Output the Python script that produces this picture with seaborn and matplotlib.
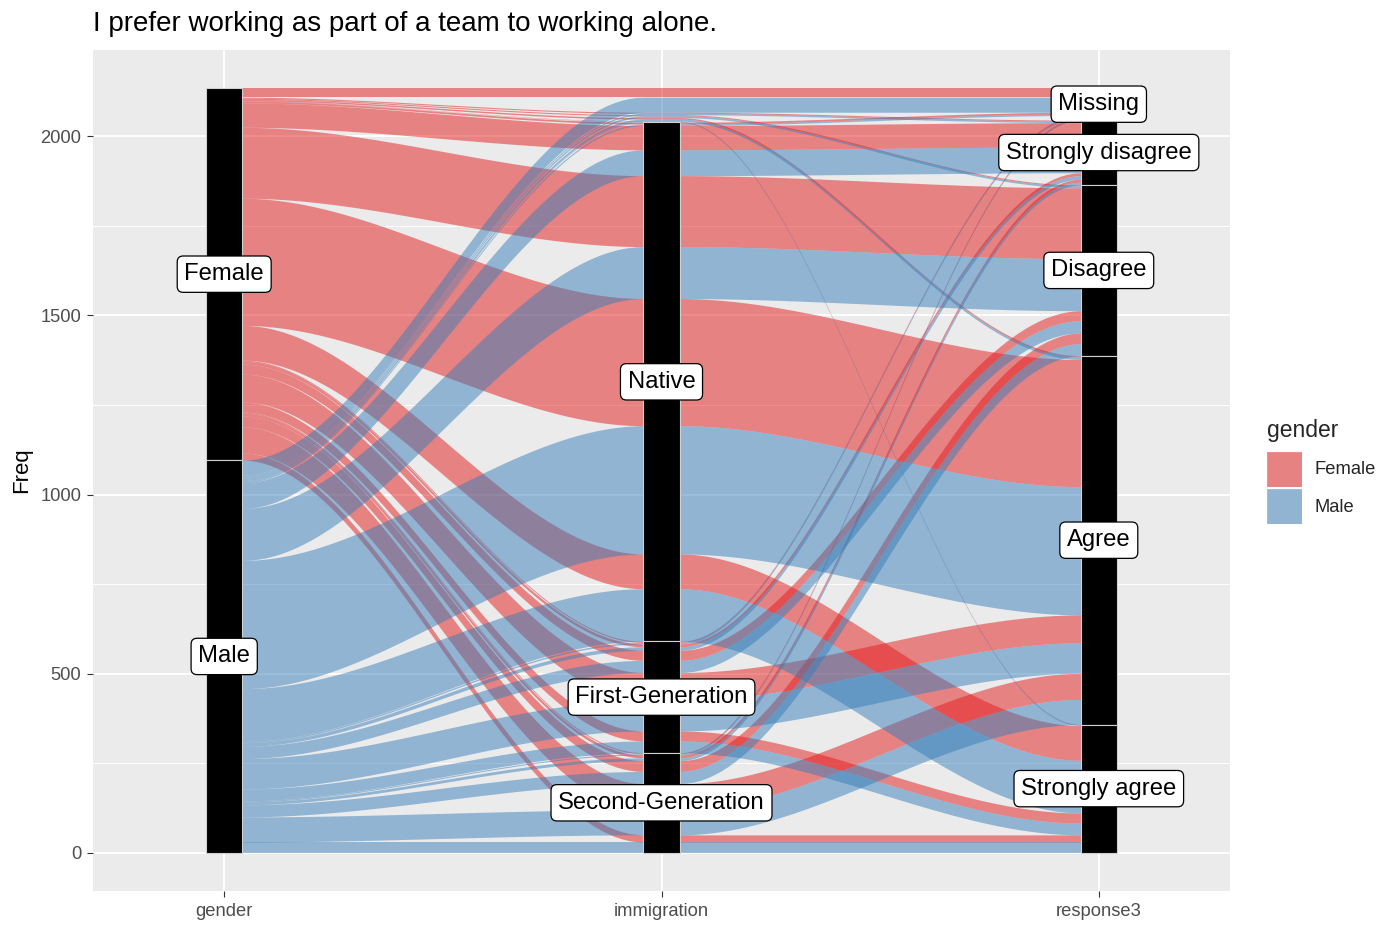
import numpy as np
import matplotlib
matplotlib.use("Agg")
import matplotlib.pyplot as plt
from matplotlib.patches import Rectangle
import seaborn as sns
import pandas as pd

# ---------------- data ----------------
title = "I prefer working as part of a team to working alone."
axis_names = ["gender", "immigration", "response3"]
genders = ["Female", "Male"]
immigration_levels = ["NA", "Native", "First-Generation", "Second-Generation"]  # "NA" = no answer (no stratum drawn)
response_levels = ["Missing", "Strongly disagree", "Disagree", "Agree", "Strongly agree"]

# counts per response level (Missing, SD, D, A, SA)
female_na = [25, 3, 3, 4, 1]
female_native = [5, 68, 198, 355, 97]
female_first = [3, 8, 28, 78, 28]
female_second = [3, 8, 30, 73, 20]
male_na = [42, 4, 5, 6, 2]
male_native = [4, 72, 145, 358, 147]
male_first = [4, 10, 34, 85, 33]
male_second = [3, 8, 34, 70, 30]

y_ticks = [0, 500, 1000, 1500, 2000]

# ---------------- build table ----------------
counts = {
    "Female": [female_na, female_native, female_first, female_second],
    "Male": [male_na, male_native, male_first, male_second],
}
rows = []
for gi, g in enumerate(genders):
    for ii, im in enumerate(immigration_levels):
        for ri, r in enumerate(response_levels):
            rows.append(dict(gender=g, immigration=im, response3=r,
                             g=gi, i=ii, r=ri, Freq=counts[g][ii][ri]))
df = pd.DataFrame(rows)
df = df[df.Freq > 0].reset_index(drop=True)
total = df.Freq.sum()


def stack_axis(code, levels, keys):
    lo = np.zeros(len(df))
    hi = np.zeros(len(df))
    top = total
    strata = {}
    for li, lvl in enumerate(levels):
        sub = df[df[code] == li].sort_values(keys)
        s_top = top
        for idx, row in sub.iterrows():
            hi[idx] = top
            lo[idx] = top - row.Freq
            top -= row.Freq
        strata[lvl] = (top, s_top)
    return lo, hi, strata


lo1, hi1, strata1 = stack_axis("g", genders, ["i", "r"])
lo2, hi2, strata2 = stack_axis("i", immigration_levels, ["r", "g"])
lo3, hi3, strata3 = stack_axis("r", response_levels, ["i", "g"])

# ---------------- style ----------------
sns.set_theme(style="darkgrid", rc={
    "axes.facecolor": "#EBEBEB",
    "grid.color": "white",
    "axes.edgecolor": "#EBEBEB",
})
plt.rcParams["font.family"] = ["Liberation Sans", "DejaVu Sans"]

W, H = 1400, 933
fig = plt.figure(figsize=(W / 100, H / 100), dpi=100)
fig.patch.set_facecolor("white")
ax = fig.add_axes([93 / W, 1 - 891 / H, (1230 - 93) / W, (891 - 50) / H])

pal = sns.color_palette("Set1", 2)
fill_colors = {"Female": pal[0], "Male": pal[1]}

w = 1 / 12
xpos = [1, 2, 3]


def smooth(t):
    return 3 * t ** 2 - 2 * t ** 3


n = 60
t = np.linspace(0, 1, n)
seg_x = [np.array([xpos[k] - w / 2, xpos[k] + w / 2]) for k in range(3)]

for gname in genders:
    sub = df[df.gender == gname]
    for idx, row in sub.iterrows():
        los = [lo1[idx], lo2[idx], lo3[idx]]
        his = [hi1[idx], hi2[idx], hi3[idx]]
        xs, yl, yh = [], [], []
        for k in range(3):
            xs += list(seg_x[k])
            yl += [los[k], los[k]]
            yh += [his[k], his[k]]
            if k < 2:
                x0, x1 = xpos[k] + w / 2, xpos[k + 1] - w / 2
                s = smooth(t[1:-1])
                xs += list(x0 + (x1 - x0) * t[1:-1])
                yl += list(los[k] + (los[k + 1] - los[k]) * s)
                yh += list(his[k] + (his[k + 1] - his[k]) * s)
        ax.fill_between(xs, yl, yh, color=fill_colors[gname], alpha=0.5,
                        linewidth=0, zorder=2)

# strata
for k, (strata, levels) in enumerate([(strata1, genders),
                                      (strata2, immigration_levels),
                                      (strata3, response_levels)]):
    for lvl in levels:
        if lvl == "NA":
            continue
        b, tp = strata[lvl]
        ax.bar(xpos[k], tp - b, bottom=b, width=w, color="black",
               edgecolor="#D0D0D0", linewidth=0.8, zorder=3)
        ax.text(xpos[k], (b + tp) / 2, lvl, ha="center", va="center",
                fontsize=17.2, color="black", zorder=5,
                bbox=dict(boxstyle="round,pad=0.3,rounding_size=0.25",
                          facecolor="white", edgecolor="black", linewidth=0.9))

ax.set_xlim(0.7, 3.3)
ax.set_ylim(-0.05 * total, 1.05 * total)
ax.set_xticks(xpos)
ax.set_xticklabels(axis_names)
ax.set_yticks(y_ticks)
ax.set_yticks([250, 750, 1250, 1750], minor=True)
ax.grid(True, which="major", color="white", linewidth=1.4)
ax.grid(True, which="minor", axis="y", color="white", linewidth=0.7)
ax.set_axisbelow(True)
for sp in ax.spines.values():
    sp.set_visible(False)
ax.tick_params(axis="both", which="major", labelsize=13.2, labelcolor="#4D4D4D",
               color="#333333", length=4, width=0.8, bottom=True, left=True, pad=4.5)
ax.tick_params(axis="both", which="minor", length=0)
ax.set_xlabel("")
ax.set_ylabel("")

fig.text(22 / W, 1 - 470 / H, "Freq", rotation=90, ha="center", va="center",
         fontsize=16, color="black")
fig.text(93 / W, 1 - 24 / H, title, ha="left", va="center", fontsize=20, color="black")

# legend
fig.text(1267 / W, 1 - 430 / H, "gender", ha="left", va="center", fontsize=16.5)
for j, gname in enumerate(genders):
    y_top = 452 + j * 37
    fig.add_artist(Rectangle((1267 / W, 1 - (y_top + 35) / H), 35 / W, 35 / H,
                             transform=fig.transFigure, facecolor="#EBEBEB",
                             edgecolor="white", linewidth=1))
    fig.add_artist(Rectangle((1267 / W, 1 - (y_top + 35) / H), 35 / W, 35 / H,
                             transform=fig.transFigure, facecolor=fill_colors[gname],
                             alpha=0.5, linewidth=0))
    fig.text(1315 / W, 1 - (y_top + 18) / H, gname, ha="left", va="center",
             fontsize=13.2)

fig.savefig("out.png", dpi=100)
